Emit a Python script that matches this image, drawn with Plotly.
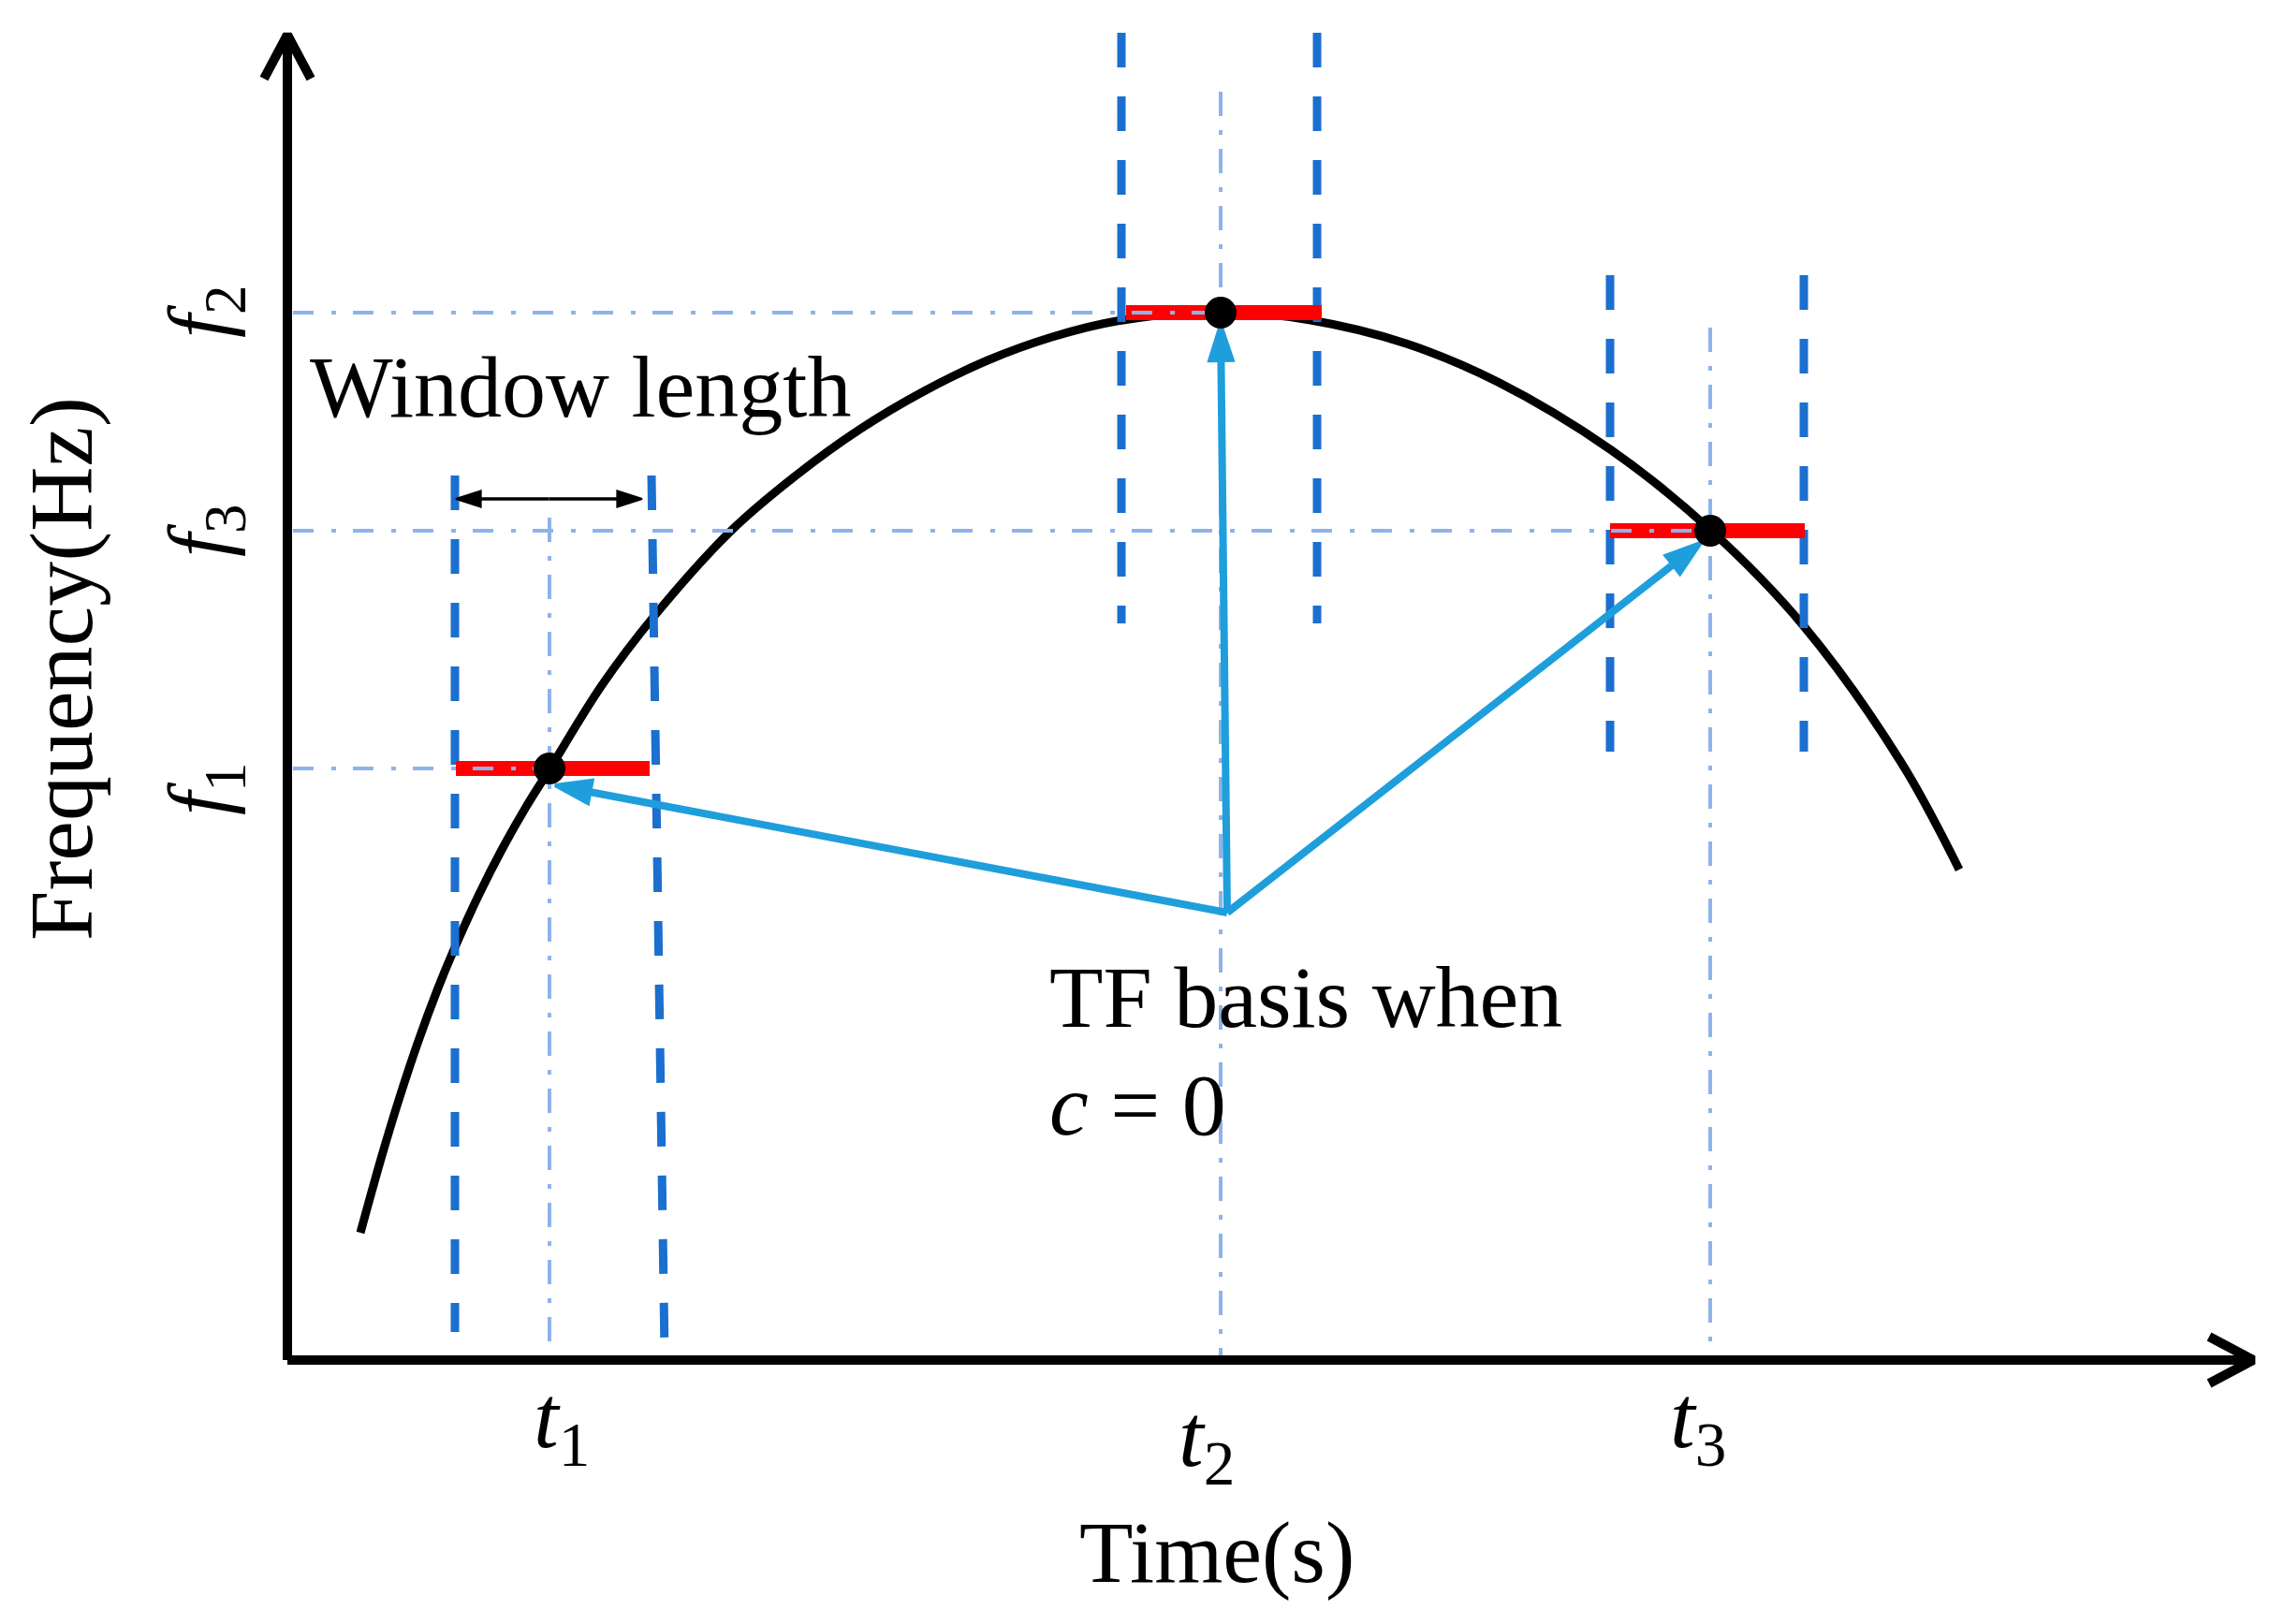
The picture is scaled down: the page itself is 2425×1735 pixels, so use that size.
import plotly.graph_objects as go

# values; axis origin is (0, 0), one unit is about one pixel
curve_t = [78, 100, 120, 140, 160, 179, 205, 230, 255, 280, 336, 392, 473, 542, 611, 680,
           748, 817, 886, 996, 1093, 1195, 1293, 1413, 1519, 1620, 1723, 1786]
curve_f = [136, 215, 281, 341, 395, 441, 498, 547, 591, 631, 721, 795, 885, 944, 994, 1035,
           1068, 1093, 1110, 1120, 1111, 1086, 1045, 973, 888, 784, 640, 524]

# the three instants t1, t2, t3 and the frequencies f1, f2, f3 on the curve
t_marks = [280, 997, 1520]
f_marks = [632, 1119, 886]
t_names = ["1", "2", "3"]
f_names = ["1", "2", "3"]
guide_top = [900, 1355, 1103]        # where the dash-dot verticals start

# label placement offsets for t_i (below the axis) and f_i (left of the axis)
t_label_dx = [13, -15, -13]
t_label_dy = [-67, -87, -67]
f_label_dy = [-22, 1, 0]

# analysis windows (dashed blue): left / right edges, top and bottom ends
win_left = [179, 891, 1413]
win_right_top = [389, 1100, 1620]
win_right_bot = [403, 1100, 1620]
win_top = [945, 1418, 1159]
win_bot_left = [30, 787, 650]
win_bot_right = [6, 787, 650]

# red bars (frequency resolution at each instant)
bar_left = [180, 896, 1413]
bar_right = [387, 1105, 1621]

# TF basis arrows: common start and the three tips
basis_t, basis_f = 1004, 478
tip_t = [286, 997, 1510]
tip_f = [614, 1106, 873]

# window length arrow
wl_left, wl_right, wl_f = 180, 379, 920

# axes
x_end, y_end = 2100, 1416

BLACK = "black"
WIN_BLUE = "#1b6fcf"
GUIDE_BLUE = "#8db4ea"
CYAN = "#1f9edc"
RED = "#ff0000"
FONT = "Liberation Serif"

fig = go.Figure()

# the curve
fig.add_trace(go.Scatter(x=curve_t, y=curve_f, mode="lines", line_shape="spline",
                         line=dict(color=BLACK, width=9), hoverinfo="skip"))

# window edges
for i in range(3):
    fig.add_trace(go.Scatter(x=[win_left[i], win_left[i]], y=[win_top[i], win_bot_left[i]],
                             mode="lines", line=dict(color=WIN_BLUE, width=9, dash="37px,31px"),
                             hoverinfo="skip"))
    fig.add_trace(go.Scatter(x=[win_right_top[i], win_right_bot[i]], y=[win_top[i], win_bot_right[i]],
                             mode="lines", line=dict(color=WIN_BLUE, width=9, dash="37px,31px"),
                             hoverinfo="skip"))

# red bars
for i in range(3):
    fig.add_trace(go.Scatter(x=[bar_left[i], bar_right[i]], y=[f_marks[i], f_marks[i]],
                             mode="lines", line=dict(color=RED, width=16), hoverinfo="skip"))

# dash-dot guides
for i in range(3):
    fig.add_trace(go.Scatter(x=[t_marks[i], t_marks[i]], y=[guide_top[i], 0], mode="lines",
                             line=dict(color=GUIDE_BLUE, width=4, dash="26px,15px,5px,15px"),
                             hoverinfo="skip"))
    fig.add_trace(go.Scatter(x=[6, t_marks[i]], y=[f_marks[i], f_marks[i]], mode="lines",
                             line=dict(color=GUIDE_BLUE, width=4, dash="22px,19px,5px,18px"),
                             hoverinfo="skip"))

# TF basis arrows
for tt, ff in zip(tip_t, tip_f):
    fig.add_trace(go.Scatter(x=[basis_t, tt], y=[basis_f, ff], mode="lines+markers",
                             line=dict(color=CYAN, width=8),
                             marker=dict(symbol="arrow", size=[0, 40], angleref="previous", opacity=1,
                                         color=CYAN, line=dict(color=CYAN, width=4)),
                             hoverinfo="skip"))

# points on the curve
fig.add_trace(go.Scatter(x=t_marks, y=f_marks, mode="markers",
                         marker=dict(color=BLACK, size=34, opacity=1), hoverinfo="skip"))

# window length double arrow (drawn from its middle to both ends)
wl_mid = (wl_left + wl_right) / 2
for end in (wl_left, wl_right):
    fig.add_trace(go.Scatter(x=[wl_mid, end], y=[wl_f, wl_f], mode="lines+markers",
                             line=dict(color=BLACK, width=3.3),
                             marker=dict(symbol="arrow", size=[0, 28], angleref="previous", opacity=1,
                                         color=BLACK, line=dict(color=BLACK, width=2)),
                             hoverinfo="skip"))

# axes with open arrow heads
head_len, head_half = 47, 25
fig.add_trace(go.Scatter(x=[0, x_end], y=[0, 0], mode="lines",
                         line=dict(color=BLACK, width=10), hoverinfo="skip"))
fig.add_trace(go.Scatter(x=[0, 0], y=[0, y_end], mode="lines",
                         line=dict(color=BLACK, width=10), hoverinfo="skip"))
fig.add_trace(go.Scatter(x=[x_end - head_len, x_end, x_end - head_len], y=[head_half, 0, -head_half],
                         mode="lines", line=dict(color=BLACK, width=10), hoverinfo="skip"))
fig.add_trace(go.Scatter(x=[-head_half, 0, head_half], y=[y_end - head_len, y_end, y_end - head_len],
                         mode="lines", line=dict(color=BLACK, width=10), hoverinfo="skip"))

txt = dict(family=FONT, size=94, color=BLACK)
fig.add_annotation(x=22, y=1040, text="Window length", showarrow=False,
                   xanchor="left", yanchor="middle", font=txt)
fig.add_annotation(x=812, y=388, text="TF basis when", showarrow=False,
                   xanchor="left", yanchor="middle", font=txt)
fig.add_annotation(x=812, y=273, text="<i>c</i> = 0", showarrow=False,
                   xanchor="left", yanchor="middle", font=txt)
fig.add_annotation(x=993, y=-205, text="Time(s)", showarrow=False,
                   xanchor="center", yanchor="middle", font=txt)
fig.add_annotation(x=-242, y=738, text="Frequency(Hz)", showarrow=False, textangle=-90,
                   xanchor="center", yanchor="middle", font=dict(family=FONT, size=96, color=BLACK))

# tick-like labels t_i and f_i
for i in range(3):
    fig.add_annotation(x=t_marks[i] + t_label_dx[i], y=t_label_dy[i],
                       text="<i>t</i><sub>" + t_names[i] + "</sub>",
                       showarrow=False, xanchor="center", yanchor="middle",
                       font=dict(family=FONT, size=96, color=BLACK))
    fig.add_annotation(x=-88, y=f_marks[i] + f_label_dy[i],
                       text="<i>f</i><sub>" + f_names[i] + "</sub>",
                       showarrow=False, textangle=-90, xanchor="center", yanchor="middle",
                       font=dict(family=FONT, size=90, color=BLACK))

fig.update_layout(
    width=2425, height=1735,
    margin=dict(l=0, r=0, t=0, b=0),
    paper_bgcolor="white", plot_bgcolor="white",
    showlegend=False,
    xaxis=dict(range=[-307, 2118], visible=False, fixedrange=True),
    yaxis=dict(range=[-282, 1453], visible=False, fixedrange=True),
)

fig.write_html("out.html", config={"displayModeBar": False},
               post_script="document.body.style.margin='0';")
